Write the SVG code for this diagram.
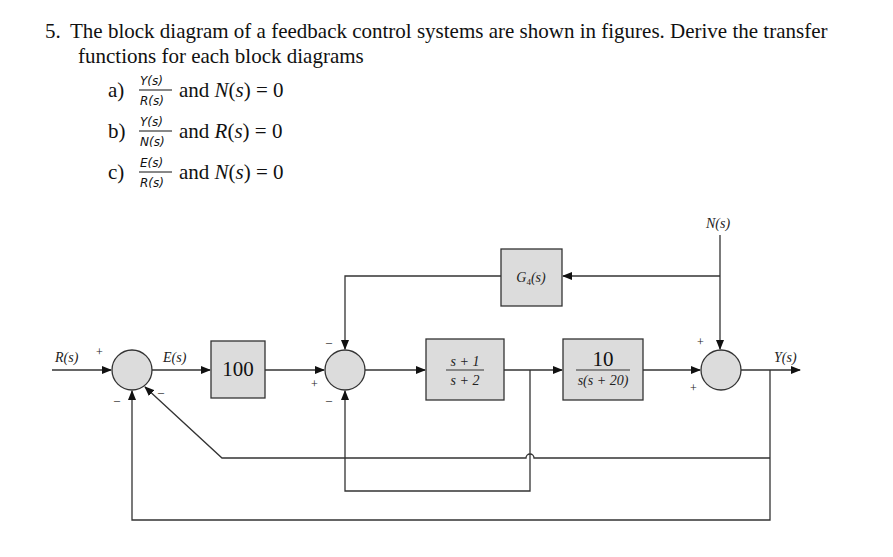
<svg xmlns="http://www.w3.org/2000/svg" width="893" height="557" viewBox="0 0 893 557">
<style>
.t{font-family:"Liberation Serif",serif;font-size:21px;fill:#111}
.f{font-family:"DejaVu Sans",sans-serif;font-size:12px;font-style:italic;fill:#111}
.l{font-family:"Liberation Serif",serif;font-size:14px;font-style:italic;fill:#222}
.s{font-family:"Liberation Serif",serif;font-size:12px;fill:#222}
.w{fill:none;stroke:#333;stroke-width:1.3}
.b{fill:#dcdcdc;stroke:#333;stroke-width:1.3}
</style>
<defs><marker id="a" markerWidth="10" markerHeight="8" refX="9" refY="4" orient="auto" markerUnits="userSpaceOnUse"><path d="M0,0L10,4L0,8z" fill="#111"/></marker></defs>
<rect width="893" height="557" fill="#fff"/>
<g id="header">
<text class="t" x="45" y="38">5.</text>
<text class="t" x="70" y="38">The block diagram of a feedback control systems are shown in figures. Derive the transfer</text>
<text class="t" x="78" y="63">functions for each block diagrams</text>
<text class="t" x="108" y="97">a)</text><text class="f" x="140" y="85">Y(s)</text><line x1="139" y1="90" x2="172" y2="90" stroke="#111"/><text class="f" x="140" y="105">R(s)</text><text class="t" x="179" y="97">and <tspan font-style="italic">N</tspan>(<tspan font-style="italic">s</tspan>) = 0</text>
<text class="t" x="108" y="138">b)</text><text class="f" x="140" y="126">Y(s)</text><line x1="139" y1="131" x2="172" y2="131" stroke="#111"/><text class="f" x="140" y="146">N(s)</text><text class="t" x="179" y="138">and <tspan font-style="italic">R</tspan>(<tspan font-style="italic">s</tspan>) = 0</text>
<text class="t" x="108" y="179">c)</text><text class="f" x="140" y="167">E(s)</text><line x1="139" y1="172" x2="172" y2="172" stroke="#111"/><text class="f" x="140" y="187">R(s)</text><text class="t" x="179" y="179">and <tspan font-style="italic">N</tspan>(<tspan font-style="italic">s</tspan>) = 0</text>
</g>
<g id="connectors">
<path class="w" d="M52,370H111" marker-end="url(#a)"/>
<path class="w" d="M152,370H210" marker-end="url(#a)"/>
<path class="w" d="M265,370H324" marker-end="url(#a)"/>
<path class="w" d="M365,370H425" marker-end="url(#a)"/>
<path class="w" d="M504,370H562" marker-end="url(#a)"/>
<path class="w" d="M643,370H700" marker-end="url(#a)"/>
<path class="w" d="M741,370H800" marker-end="url(#a)"/>
<path class="w" d="M720,235V349" marker-end="url(#a)"/>
<path class="w" d="M720,276H563" marker-end="url(#a)"/>
<path class="w" d="M501,276H345V349" marker-end="url(#a)"/>
<path class="w" d="M530,370V491H345V391" marker-end="url(#a)"/>
<path class="w" d="M770,370V520H132V391" marker-end="url(#a)"/>
<path class="w" d="M770,458H534a4,4 0 0 0 -8,0H222L145,387" marker-end="url(#a)"/>
</g>
<g id="sum1"><circle class="b" cx="132" cy="370" r="20"/><text class="s" x="96" y="356">+</text><text class="s" x="114" y="404">–</text><text class="s" x="158" y="396">–</text></g>
<g id="block100"><rect class="b" x="211" y="341" width="54" height="57"/><text class="t" x="238" y="376" text-anchor="middle" font-size="15">100</text></g>
<g id="sum2"><circle class="b" cx="345" cy="370" r="20"/><text class="s" x="326" y="346">–</text><text class="s" x="311" y="388">+</text><text class="s" x="326" y="404">–</text></g>
<g id="block2"><rect class="b" x="426" y="339" width="78" height="61"/><text class="l" x="465" y="366" text-anchor="middle">s + 1</text><line x1="446" y1="370" x2="484" y2="370" stroke="#333"/><text class="l" x="465" y="385" text-anchor="middle">s + 2</text></g>
<g id="block3"><rect class="b" x="563" y="339" width="80" height="61"/><text class="t" x="603" y="366" text-anchor="middle" font-size="14">10</text><line x1="576" y1="370" x2="630" y2="370" stroke="#333"/><text class="l" x="603" y="385" text-anchor="middle">s(s + 20)</text></g>
<g id="g4"><rect class="b" x="501" y="249" width="61" height="57"/><text class="l" x="531" y="282" text-anchor="middle">G<tspan font-size="9" dy="3" font-style="normal">4</tspan><tspan dy="-3">(s)</tspan></text></g>
<g id="sum3"><circle class="b" cx="721" cy="370" r="20"/><text class="s" x="697" y="346">+</text><text class="s" x="690" y="392">+</text></g>
<g id="labels">
<text class="l" x="55" y="362">R(s)</text>
<text class="l" x="163" y="362">E(s)</text>
<text class="l" x="706" y="228">N(s)</text>
<text class="l" x="774" y="362">Y(s)</text>
</g>
</svg>
